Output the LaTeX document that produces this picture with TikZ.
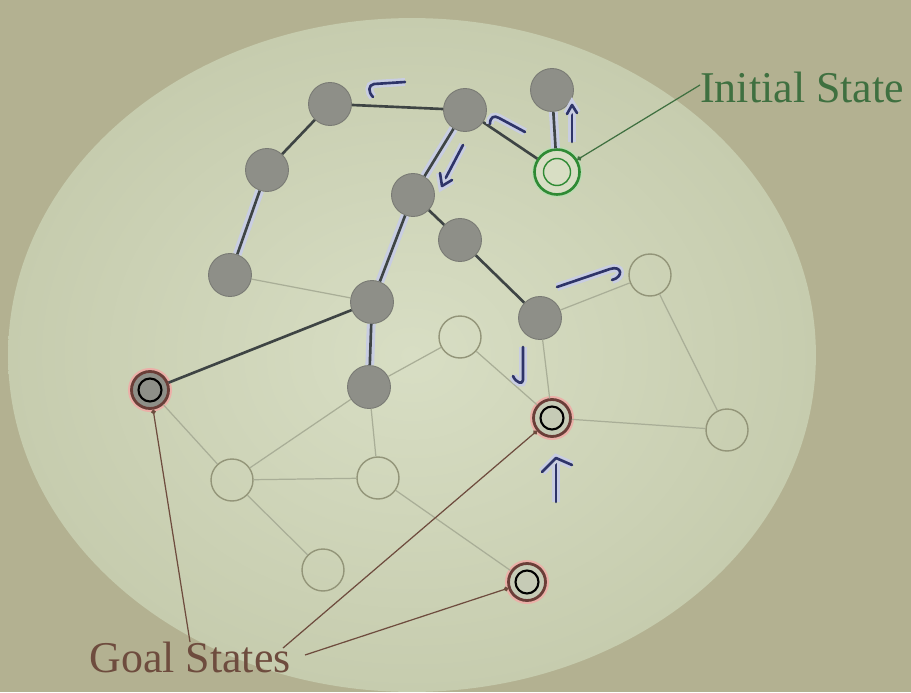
\documentclass[tikz,border=0pt]{standalone}
\usepackage{fontspec}
\setmainfont{Liberation Serif}
\usetikzlibrary{arrows.meta}

\definecolor{bgout}{HTML}{B3B191}
\definecolor{spacein}{HTML}{D8DEC4}
\definecolor{spaceout}{HTML}{C6CCAE}
\definecolor{nodegray}{HTML}{8E8F88}
\definecolor{edgedark}{HTML}{3E4444}
\definecolor{edgelight}{HTML}{A9AE97}
\definecolor{ringlight}{HTML}{939579}
\definecolor{glowblue}{HTML}{C8CDE2}
\definecolor{penblue}{HTML}{2E3468}
\definecolor{initgreen}{HTML}{2F8A34}
\definecolor{initglow}{HTML}{B8DDB0}
\definecolor{labelgreen}{HTML}{3F7040}
\definecolor{goalbrown}{HTML}{6A3E38}
\definecolor{goalglow}{HTML}{EBB0A8}
\definecolor{labelbrown}{HTML}{6E4C3E}

\tikzset{
  visited/.style={circle, fill=nodegray, draw=nodegray!85!black, line width=0.5pt,
    minimum size=0.86cm, inner sep=0pt},
  unvisited/.style={circle, draw=ringlight, line width=0.8pt,
    minimum size=0.84cm, inner sep=0pt},
  goalstate/.style={circle, draw=goalbrown, line width=1.6pt, fill=#1,
    minimum size=0.74cm, inner sep=0pt,
    preaction={draw=goalglow, line width=4pt},
    path picture={\draw[black, line width=1.2pt] (path picture bounding box.center) circle (0.23cm);}},
  goalstate/.default=spacein!80!gray,
  initstate/.style={circle, draw=initgreen, line width=1.5pt, fill=spacein,
    minimum size=0.9cm, inner sep=0pt,
    preaction={draw=initglow, line width=3pt},
    path picture={\draw[initgreen, line width=0.8pt] (path picture bounding box.center) circle (0.27cm);}},
  tracedge/.style={edgedark, line width=1.5pt},
  glowedge/.style={tracedge, preaction={draw=glowblue, line width=5pt}},
  openedge/.style={edgelight, line width=0.7pt},
  pen/.style={penblue, line width=1.5pt, line cap=round, line join=round,
    preaction={draw=glowblue, line width=4.5pt}},
  leader/.style={line width=0.7pt, -{Circle[length=2.6pt]}},
  biglabel/.style={anchor=base west, inner sep=0pt, font=\fontsize{25}{30}\selectfont},
}

\begin{document}
\begin{tikzpicture}[x=0.02cm, y=-0.02cm]
    % Hintergrund und Zustandsraum
    \fill[bgout] (0,0) rectangle (911,692);
    \useasboundingbox (0,0) rectangle (911,692);
    \path[inner color=spacein, outer color=spaceout] (412,355) ellipse [x radius=8.08cm, y radius=6.74cm];

    % besuchte Zustaende
    \foreach \name/\xPos/\yPos in {A/330/104, B/465/110, C/552/90, D/267/170, E/413/195,
                                   F/460/240, G/230/275, H/372/302, J/540/318, K/369/387}
        \node[visited] (\name) at (\xPos,\yPos) {};

    % noch offene Zustaende
    \foreach \name/\xPos/\yPos in {L/460/337, M/650/275, N/727/430, P/232/480,
                                   Q/378/478, R/323/570}
        \node[unvisited] (\name) at (\xPos,\yPos) {};

    % Start und Ziele
    \node[initstate] (I) at (557,172) {};
    \node[goalstate=nodegray] (goalA) at (150,390) {};
    \node[goalstate] (goalB) at (552,418) {};
    \node[goalstate] (goalC) at (527,582) {};

    % Kanten
    \foreach \from/\to in {G/H, K/L, L/goalB, J/goalB, J/M, M/N, N/goalB,
                           K/P, K/Q, P/Q, goalA/P, P/R, Q/goalC}
        \draw[openedge] (\from) -- (\to);
    \foreach \from/\to in {I/C, B/E, D/G, E/H, H/K}
        \draw[glowedge] (\from) -- (\to);
    \foreach \from/\to in {A/B, B/I, A/D, E/F, F/J, H/goalA}
        \draw[tracedge] (\from) -- (\to);

    % Pfeile von Hand
    \draw[pen] (405,82) -- (374,84) .. controls (368,85) and (368,92) .. (373,97);
    \draw[pen] (490,124) .. controls (490,117) and (494,115) .. (499,118) -- (525,132);
    \draw[pen] (572,142) -- (572,106);
    \draw[pen] (567,114) -- (572,105) -- (577,113);
    \draw[pen] (463,145) -- (442,185);
    \draw[pen] (440,173) -- (442,186) -- (452,180);
    \draw[pen] (557,287) -- (610,269) .. controls (622,265) and (624,277) .. (612,280);
    \draw[pen] (523,347) -- (523,380) .. controls (523,385) and (516,383) .. (513,376);
    \draw[pen] (556,502) -- (556,458);
    \draw[pen] (542,472) -- (556,458) -- (572,465);

    % Beschriftungen
    \node[biglabel, text=labelgreen] (initlabel) at (700,103) {Initial State};
    \coordinate (initfoot) at (700,85);
    \draw[leader, labelgreen] (initfoot) -- (I);

    \node[biglabel, text=labelbrown] (goallabel) at (89,672) {Goal States};
    \coordinate (goalfootA) at (190,642);
    \coordinate (goalfootB) at (283,648);
    \coordinate (goalfootC) at (305,655);
    \draw[leader, labelbrown] (goalfootA) -- (goalA);
    \draw[leader, labelbrown] (goalfootB) -- (goalB);
    \draw[leader, labelbrown] (goalfootC) -- (goalC);
\end{tikzpicture}
\end{document}
